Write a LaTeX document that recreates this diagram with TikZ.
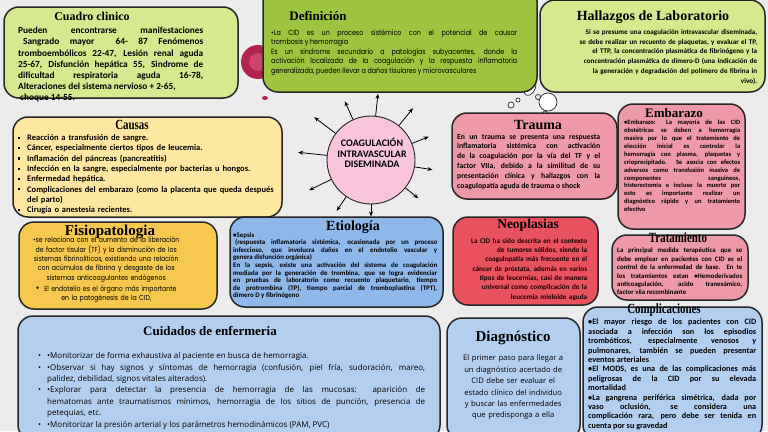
\documentclass[tikz,border=0pt]{standalone}
\usepackage{fontspec}
\setmainfont{Carlito}
\newfontfamily\ttlfont{Liberation Serif}
\newfontfamily\ttlcond[FakeStretch=0.78]{Liberation Serif}
\newfontfamily\cfont{Carlito}
\newfontfamily\gothfont[FakeStretch=0.85]{Poppins}
\newfontfamily\osfont{Open Sans}
\usetikzlibrary{arrows.meta,calc}
\definecolor{cBg}{HTML}{ECECEC}
\definecolor{cBorder}{HTML}{262626}
\definecolor{cLime}{HTML}{D5E98E}
\definecolor{cOlive}{HTML}{9CC43E}
\definecolor{cCream}{HTML}{FDE7A1}
\definecolor{cGold}{HTML}{F6C84E}
\definecolor{cPink}{HTML}{F9C5DC}
\definecolor{cRose}{HTML}{EE99A8}
\definecolor{cRedBox}{HTML}{E9525D}
\definecolor{cBlue}{HTML}{8EB7EA}
\definecolor{cLBlue}{HTML}{B2CEF1}
\definecolor{cCell}{HTML}{B22350}
\definecolor{cCellL}{HTML}{CC4470}
\newcommand{\cbul}{\par\noindent\hangindent=9pt\hangafter=1\makebox[9pt][l]{\raisebox{1.6pt}{\rule{2.2pt}{2.2pt}}}}
\newcommand{\cuit}{\par\noindent\hangindent=9pt\hangafter=1\makebox[9pt][l]{•}}
\begin{document}
\begin{tikzpicture}[x=1pt,y=-1pt,
  box/.style={draw=cBorder,line width=1.5pt,rounded corners=15pt,inner sep=0pt},
  ttl/.style={inner sep=0pt,font=\ttlfont\bfseries\fontsize{#1}{#1}\selectfont},
  ttlc/.style={inner sep=0pt,font=\ttlcond\bfseries\fontsize{#1}{#1}\selectfont},
  txt/.style={inner sep=0pt,anchor=north west},
  ray/.style={line width=0.8pt,-{Stealth[length=5pt,width=4pt]}},
  cell/.style={fill=cCell},
  bubble/.style={draw=cBorder,line width=0.7pt,fill=white}]
\useasboundingbox (0,0) rectangle (768,431);
\clip (0,0) rectangle (768,431);
\fill[cBg] (0,0) rectangle (768,431);

% decorations
\fill[cell] (258,62) circle (17);
\fill[cCellL] (258,62) circle (9);
\fill[cell,rotate around={20:(230,58)}] (230,58) ellipse (8 and 14);
\fill[cCellL,rotate around={20:(230,58)}] (230,58) ellipse (4 and 8);
\fill[cell] (222,82) circle (2.5);
\fill[cell] (234,34) circle (2);
\fill[cell] (265,98) ellipse (3 and 2);
\draw[bubble,rotate around={-30:(530,88)}] (530,88) ellipse (5 and 8);
\draw[bubble] (548,102) circle (9);
\draw[bubble] (538,97) circle (2.5);
\draw[bubble] (511,105) circle (3);
\draw[bubble] (518,100) circle (2);
\draw[bubble] (545,113) circle (2);

% boxes
\node[box,fill=cLime,minimum width=234pt,minimum height=91pt] (cc) at (121,52.5) {};
\node[box,fill=cOlive,minimum width=274pt,minimum height=106pt] (def) at (400,39) {};
\node[box,fill=cLime,minimum width=225pt,minimum height=92pt] (hal) at (652.5,46) {};
\node[box,fill=cCream,minimum width=269pt,minimum height=100pt] (cau) at (147.5,167) {};
\node[box,fill=cRose,minimum width=165pt,minimum height=86pt] (tra) at (534.5,156) {};
\node[box,fill=cRose,minimum width=127pt,minimum height=125pt] (emb) at (681.5,166.5) {};
\node[box,fill=cGold,minimum width=198pt,minimum height=87pt] (fis) at (118,265.5) {};
\node[box,fill=cBlue,minimum width=213pt,minimum height=90pt] (eti) at (336.5,262) {};
\node[box,fill=cRedBox,minimum width=145pt,minimum height=88pt] (neo) at (525.5,261) {};
\node[box,fill=cRose,minimum width=136pt,minimum height=65pt] (trat) at (680,267.5) {};
\node[box,fill=cLBlue,minimum width=179pt,minimum height=133pt] (comp) at (672.5,373.5) {};
\node[box,fill=cLBlue,minimum width=422pt,minimum height=124pt] (cui) at (229,378) {};
\node[box,fill=cLBlue,minimum width=133pt,minimum height=122pt] (dia) at (513.5,379) {};

% central circle
\node[circle,draw=cBorder,line width=0.9pt,fill=cPink,minimum size=88pt,inner sep=0pt] (cid) at (371,160) {};
\node[font=\cfont\bfseries\fontsize{10}{10.8}\selectfont,align=center,inner sep=0pt] (cidt) at (372,153) {COAGULACIÓN\\INTRAVASCULAR\\DISEMINADA};
\foreach \a/\f [count=\i] in {143/1.6,174/1.65,206/1.55,236/1.38,270/1.27,321/1.37,351/1.4,22/1.4,51/1.5,84/1.5,114/1.45}{
  \coordinate (r\i) at ($(cid.center)!\f!(cid.\a)$);
  \draw[ray] (cid.\a) -- (r\i);
}

% titles
\node[ttl=12] (cch) at (92,16) {Cuadro clinico};
\node[ttl=13] (defh) at (318,16) {Definición};
\node[ttl=14] (halh) at (653,17) {Hallazgos de Laboratorio};
\node[ttlc=14] (cauh) at (132,125) {Causas};
\node[ttl=14] (trah) at (538,125) {Trauma};
\node[ttl=13] (embh) at (674,113) {Embarazo};
\node[ttl=15] (fish) at (110,232) {Fisiopatologia};
\node[ttl=14] (etih) at (353,227) {Etiología};
\node[ttl=13.5] (neoh) at (528,225) {Neoplasias};
\node[ttlc=14] (trath) at (678,238) {Tratamiento};
\node[ttlc=14] (comph) at (664,310) {Complicaciones};
\node[ttl=13] (cuih) at (210,331) {Cuidados de enfermeria};
\node[ttl=15] (diah) at (513,338) {Diagnóstico};

% bodies
\node[txt,text width=185pt,align=justify,font=\cfont\bfseries\fontsize{9.3}{11.2}\selectfont] (cct) at (18,27)
{Pueden encontrarse manifestaciones\linebreak
\hspace*{5pt}Sangrado mayor\ \ 64- 87 Fenómenos\linebreak
tromboembólicos 22-47, Lesión renal aguda\linebreak
25-67, Disfunción hepática 55, Sindrome de\linebreak
dificultad respiratoria aguda 16-78,\linebreak
Alteraciones del sistema nervioso + 2-65,\\
\hspace*{2pt}choque 14-55.};

\node[txt,text width=246pt,align=justify,font=\gothfont\fontsize{7.5}{9.5}\selectfont] (deft) at (271,29)
{•La CID es un proceso sistémico con el potencial de causar\linebreak trombosis y hemorragia\\
Es un síndrome secundario a patologías subyacentes, donde la\linebreak
activación localizada de la coagulación y la respuesta inflamatoria\linebreak
generalizada, pueden llevar a daños tisulares y microvasculares};

\node[txt,text width=200pt,align=right,font=\cfont\bfseries\fontsize{7.1}{9.9}\selectfont] (halt) at (557,29)
{Si se presume una coagulación intravascular diseminada,\\
se debe realizar un recuento de plaquetas, y evaluar el TP,\\
el TTP, la concentración plasmática de fibrinógeno y la\\
concentración plasmática de dímero-D (una indicación de\\
la generación y degradación del polímero de fibrina in\\
vivo).};

\node[txt,text width=262pt,font=\cfont\bfseries\fontsize{8.5}{10.3}\selectfont] (caut) at (18,130)
{\cbul Reacción a transfusión de sangre.
\cbul Cáncer, especialmente ciertos tipos de leucemia.
\cbul Inflamación del páncreas (pancreatitis)
\cbul Infección en la sangre, especialmente por bacterias u hongos.
\cbul Enfermedad hepática.
\cbul Complicaciones del embarazo (como la placenta que queda después del parto)
\cbul Cirugía o anestesia recientes.};

\node[txt,text width=143pt,align=justify,font=\cfont\bfseries\fontsize{7.7}{9.8}\selectfont] (trat1) at (457,134)
{En un trauma se presenta una respuesta\linebreak
inflamatoria sistémica con activación\linebreak
de la coagulación por la vía del TF y el\linebreak
factor VIIa, debido a la similitud de su\linebreak
presentación clínica y hallazgos con la\linebreak
coagulopatía aguda de trauma o shock};

\node[txt,text width=116pt,align=justify,font=\cfont\bfseries\fontsize{6.5}{7.9}\selectfont] (embt) at (624,120)
{•Embarazo: La mayoría de las CID\linebreak
obstétricas se deben a hemorragia\linebreak
masiva por lo que el tratamiento de\linebreak
elección inicial es controlar la\linebreak
hemorragia con plasma, plaquetas y\linebreak
crioprecipitado. Se asocia con efectos\linebreak
adversos como transfusión masiva de\linebreak
componentes sanguíneos,\linebreak
histerectomía e incluso la muerte por\linebreak
esto es importante realizar un\linebreak
diagnóstico rápido y un tratamiento\linebreak
efectivo};

\node[txt,text width=170pt,align=center,font=\gothfont\fontsize{7.3}{9.3}\selectfont] (fist) at (21,237)
{•se relaciona con el aumento de la liberación\\
de factor tisular (TF) y la disminución de los\\
sistemas fibrinolíticos, existiendo una relación\\
con acúmulos de fibrina y desgaste de los\\
sistemas anticoagulantes endógenos\\[2pt]
{\fontsize{10}{10}\selectfont•}\ \ El endotelio es el órgano más importante\\
en la patogénesis de la CID,};

\node[txt,text width=204pt,align=justify,font=\cfont\bfseries\fontsize{6.9}{7.6}\selectfont] (etit) at (233,232)
{•Sepsis\\
\hspace*{2pt}(respuesta inflamatoria sistémica, ocasionada por un proceso\linebreak
infeccioso, que involucra daños en el endotelio vascular y\linebreak
genera disfunción orgánica)\\
En la sepsis, existe una activación del sistema de coagulación\linebreak
mediada por la generación de trombina, que se logra evidenciar\linebreak
en pruebas de laboratorio como recuento plaquetario, tiempo\linebreak
de protrombina (TP), tiempo parcial de tromboplastina (TPT),\linebreak
dímero D y fibrinógeno};

\node[txt,text width=122pt,align=right,font=\cfont\bfseries\fontsize{7.2}{9.3}\selectfont,text=black!90!red] (neot) at (465,238)
{La CID ha sido descrita en el contexto\\
de tumores sólidos, siendo la\\
coagulopatía más frecuente en el\\
cáncer de próstata, además en varios\\
tipos de leucemias, casi de manera\\
universal como complicación de la\\
leucemia mieloide aguda};

\node[txt,text width=125pt,align=justify,font=\cfont\bfseries\fontsize{6.8}{8.4}\selectfont] (tratt) at (617,248)
{La principal medida terapéutica que se\linebreak
debe emplear en pacientes con CID es el\linebreak
control de la enfermedad de base. En te\linebreak
los tratamientos estan •Hemoderivados\linebreak
anticoagulación, acido tranexámico,\linebreak
factor viia recombinante};

\node[txt,text width=168pt,align=justify,font=\cfont\bfseries\fontsize{8.2}{9.4}\selectfont] (compt) at (588,319)
{•El mayor riesgo de los pacientes con CID\linebreak
asociada a infección son los episodios\linebreak
trombóticos, especialmente venosos y\linebreak
pulmonares, también se pueden presentar\linebreak
eventos arteriales\\
•El MODS, es una de las complicaciones más\linebreak
peligrosas de la CID por su elevada\linebreak
mortalidad\\
•La gangrena periférica simétrica, dada por\linebreak
vaso oclusión, se considera una\linebreak
complicación rara, pero debe ser tenida en\linebreak
cuenta por su gravedad};

\node[txt,text width=387pt,align=justify,font=\osfont\fontsize{8}{11.4}\selectfont] (cuit) at (38,347)
{\cuit •Monitorizar de forma exhaustiva al paciente en busca de hemorragia.
\cuit •Observar si hay signos y síntomas de hemorragia (confusión, piel fría, sudoración, mareo,\linebreak palidez, debilidad, signos vitales alterados).
\cuit •Explorar para detectar la presencia de hemorragia de las mucosas: aparición de\linebreak hematomas ante traumatismos mínimos, hemorragia de los sitios de punción, presencia de\linebreak petequias, etc.
\cuit •Monitorizar la presión arterial y los parámetros hemodinámicos (PAM, PVC)};

\node[txt,text width=124pt,align=center,font=\osfont\fontsize{7.6}{11.4}\selectfont] (diat) at (451,355)
{El primer paso para llegar a\\
un diagnóstico acertado de\\
CID debe ser evaluar el\\
estado clínico del individuo\\
y buscar las enfermedades\\
que predisponga a ella};
\end{tikzpicture}
\end{document}
